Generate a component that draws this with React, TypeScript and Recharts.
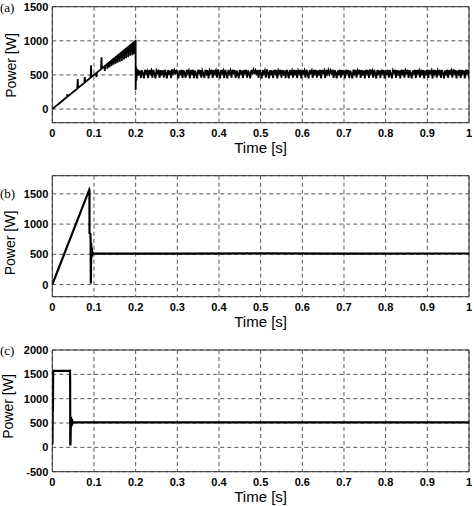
import React from 'react';
import { LineChart, Line, XAxis, YAxis, CartesianGrid, ReferenceArea } from 'recharts';

const timeTicks = [0, 0.1, 0.2, 0.3, 0.4, 0.5, 0.6, 0.7, 0.8, 0.9, 1];
const powerTicksA = [0, 500, 1000, 1500];
const powerTicksB = [0, 500, 1000, 1500];
const powerTicksC = [-500, 0, 500, 1000, 1500, 2000];
const domainA: [number, number] = [-200, 1500];
const domainB: [number, number] = [-200, 1800];
const domainC: [number, number] = [-500, 2000];

// (a) start-up ramp with spikes, then drop at 0.2 s
const rampA: [number, number][] = [
  [0, 0], [0.01, 50], [0.02, 100], [0.03, 150], [0.035, 175], [0.036, 215], [0.037, 185],
  [0.05, 250], [0.06, 300], [0.061, 440], [0.062, 310], [0.07, 350], [0.077, 385], [0.078, 470],
  [0.079, 395], [0.085, 425], [0.092, 460], [0.093, 640], [0.094, 470], [0.1, 500], [0.105, 525],
  [0.106, 470], [0.107, 535], [0.112, 560], [0.117, 585], [0.118, 760], [0.119, 595], [0.125, 625],
  [0.126, 560], [0.127, 635], [0.132, 660], [0.132, 590], [0.133, 665], [0.137, 685], [0.137, 610],
  [0.138, 690], [0.142, 710], [0.142, 630], [0.143, 715], [0.147, 735], [0.147, 650], [0.148, 740],
  [0.152, 760], [0.152, 665], [0.153, 765], [0.157, 785], [0.157, 680], [0.158, 790], [0.162, 810],
  [0.162, 695], [0.163, 815], [0.167, 835], [0.167, 705], [0.168, 840], [0.172, 860], [0.172, 725],
  [0.173, 865], [0.177, 885], [0.177, 745], [0.178, 890], [0.182, 910], [0.182, 760], [0.183, 915],
  [0.187, 935], [0.187, 780], [0.188, 940], [0.192, 960], [0.192, 790], [0.193, 965], [0.196, 980],
  [0.196, 805], [0.197, 985], [0.199, 995], [0.199, 830], [0.2, 1000], [0.2, 280], [0.201, 620],
  [0.202, 420], [0.203, 590], [0.204, 480],
];

// (a) steady-state oscillation sampled every 0.0025 s from 0.205 s
const noiseStartA = 0.205;
const noiseStepA = 0.0025;
const noiseA = [
  575, 525, 565, 455, 570, 520, 450, 575, 530, 560,
  455, 570, 525, 565, 460, 575, 520, 450, 565, 530,
  575, 455, 570, 520, 565, 460, 575, 530, 450, 570,
  525, 565, 455, 580, 530, 570, 510, 575, 520, 450,
  565, 525, 575, 455, 570, 520, 460, 575, 530, 565,
  450, 570, 525, 575, 455, 565, 520, 450, 575, 530,
  570, 460, 565, 525, 455, 575, 520, 570, 450, 565,
  530, 575, 455, 570, 525, 565, 460, 580, 520, 450,
  570, 530, 565, 455, 575, 520, 450, 570, 525, 565,
  460, 575, 530, 570, 455, 565, 520, 450, 575, 525,
  565, 455, 570, 530, 575, 460, 565, 520, 450, 570,
  530, 575, 510, 565, 525, 570, 455, 575, 520, 450,
  570, 525, 565, 460, 580, 530, 450, 570, 520, 565,
  455, 575, 525, 570, 450, 565, 530, 575, 460, 570,
  520, 565, 455, 575, 530, 450, 570, 525, 565, 460,
  575, 520, 570, 455, 565, 530, 575, 450, 570, 525,
  565, 460, 575, 520, 450, 570, 530, 565, 455, 575,
  525, 570, 460, 565, 520, 575, 450, 570, 530, 565,
  455, 575, 520, 570, 510, 565, 525, 575, 455, 570,
  530, 450, 565, 520, 575, 460, 570, 525, 565, 450,
  575, 530, 570, 455, 565, 520, 450, 575, 525, 570,
  460, 565, 530, 575, 455, 570, 520, 565, 450, 575,
  525, 570, 455, 580, 530, 565, 460, 575, 520, 450,
  570, 525, 565, 455, 575, 530, 570, 450, 565, 520,
  575, 460, 570, 525, 450, 565, 530, 575, 455, 570,
  520, 565, 450, 575, 525, 570, 460, 565, 530, 575,
  455, 570, 520, 450, 565, 525, 575, 455, 570, 530,
  565, 460, 575, 520, 570, 450, 565, 525, 575, 455,
  570, 530, 565, 450, 575, 520, 570, 460, 565, 525,
  575, 455, 570, 530, 450, 565, 520, 575, 455, 570,
  525, 565, 460, 580, 530, 570, 450, 565, 520, 575,
  455, 570, 525, 565, 450, 575, 530, 570, 460, 565,
];

// (b)
const traceB: [number, number][] = [
  [0, 0], [0.0888, 1570], [0.0892, 1560], [0.0893, 850], [0.0915, 840], [0.092, 700],
  [0.0925, 20], [0.093, 300], [0.0935, 690], [0.094, 430], [0.0948, 610], [0.0955, 470],
  [0.0965, 550], [0.0975, 505], [0.1, 515], [0.3, 512], [0.5, 515], [0.7, 512], [1, 514],
];

// (c)
const traceC: [number, number][] = [
  [0, 100], [0.0005, 60], [0.001, 760], [0.0015, 720], [0.002, 1570], [0.0425, 1570],
  [0.0428, 1400], [0.0432, 40], [0.0438, 120], [0.0444, 500], [0.0452, 630], [0.046, 440],
  [0.0472, 580], [0.0485, 490], [0.05, 515], [0.3, 512], [0.6, 514], [1, 513],
];

const toRows = (pairs: [number, number][]) => pairs.map(([t, p]) => ({ t, p }));
const dataA = [
  ...toRows(rampA),
  ...noiseA.map((p, i) => ({ t: +(noiseStartA + i * noiseStepA).toFixed(5), p })),
];
const dataB = toRows(traceB);
const dataC = toRows(traceC);

const tickFont = { fill: '#000', fontSize: 11, fontWeight: 700, fontFamily: '"Liberation Sans", Arial, sans-serif' };

type PanelProps = {
  top: number;
  height: number;
  marginTop: number;
  axisHeight: number;
  data: { t: number; p: number }[];
  domain: [number, number];
  yTicks: number[];
  strokeWidth: number;
};

function Panel({ top, height, marginTop, axisHeight, data, domain, yTicks, strokeWidth }: PanelProps) {
  return (
    <div style={{ position: 'absolute', left: 0, top, width: 474, height }}>
      <LineChart width={474} height={height} data={data} margin={{ top: marginTop, right: 5, bottom: 0, left: 0 }}>
        <CartesianGrid stroke="#444" strokeDasharray="4 3" strokeWidth={0.9} />
        <XAxis
          dataKey="t"
          type="number"
          domain={[0, 1]}
          ticks={timeTicks}
          interval={0}
          allowDataOverflow
          tickFormatter={(v: number) => String(v)}
          tick={tickFont}
          tickLine={false}
          axisLine={false}
          tickSize={0}
          tickMargin={6}
          height={axisHeight}
        />
        <YAxis
          type="number"
          domain={domain}
          ticks={yTicks}
          interval={0}
          allowDataOverflow
          tick={tickFont}
          tickLine={false}
          axisLine={false}
          tickSize={0}
          tickMargin={4}
          width={52.3}
        />
        <ReferenceArea x1={0} x2={1} y1={domain[0]} y2={domain[1]} fill="none" stroke="#333" strokeWidth={1} ifOverflow="visible" />
        <Line dataKey="p" type="linear" stroke="#000" strokeWidth={strokeWidth} dot={false} isAnimationActive={false} />
      </LineChart>
    </div>
  );
}

const serif = '"Liberation Serif", "Times New Roman", serif';
const sans = '"Liberation Sans", Arial, sans-serif';

export default function App() {
  return (
    <div style={{ position: 'absolute', left: 0, top: 0, width: 474, height: 506, background: '#fff', overflow: 'hidden' }}>
      <Panel top={0} height={160} marginTop={6.7} axisHeight={37.3} data={dataA} domain={domainA} yTicks={powerTicksA} strokeWidth={1.8} />
      <Panel top={160} height={170} marginTop={15.7} axisHeight={33.3} data={dataB} domain={domainB} yTicks={powerTicksB} strokeWidth={2.2} />
      <Panel top={330} height={176} marginTop={20} axisHeight={34.3} data={dataC} domain={domainC} yTicks={powerTicksC} strokeWidth={2.2} />
      <svg width={474} height={506} style={{ position: 'absolute', left: 0, top: 0, pointerEvents: 'none' }}>
        <text x={0} y={12} fontFamily={serif} fontSize={13} fill="#000">(a)</text>
        <text x={0} y={197.5} fontFamily={serif} fontSize={13} fill="#000">(b)</text>
        <text x={0} y={354.5} fontFamily={serif} fontSize={13} fill="#000">(c)</text>
        <text x={16} y={65.5} transform="rotate(-90 16 65.5)" textAnchor="middle" fontFamily={sans} fontSize={14} fill="#000">Power [W]</text>
        <text x={15} y={243} transform="rotate(-90 15 243)" textAnchor="middle" fontFamily={sans} fontSize={14} fill="#000">Power [W]</text>
        <text x={13} y={406.5} transform="rotate(-90 13 406.5)" textAnchor="middle" fontFamily={sans} fontSize={14} fill="#000">Power [W]</text>
        <text x={260.6} y={153.3} textAnchor="middle" fontFamily={sans} fontSize={15} fill="#000">Time [s]</text>
        <text x={260.6} y={327.3} textAnchor="middle" fontFamily={sans} fontSize={15} fill="#000">Time [s]</text>
        <text x={260.6} y={502.3} textAnchor="middle" fontFamily={sans} fontSize={15} fill="#000">Time [s]</text>
      </svg>
    </div>
  );
}
